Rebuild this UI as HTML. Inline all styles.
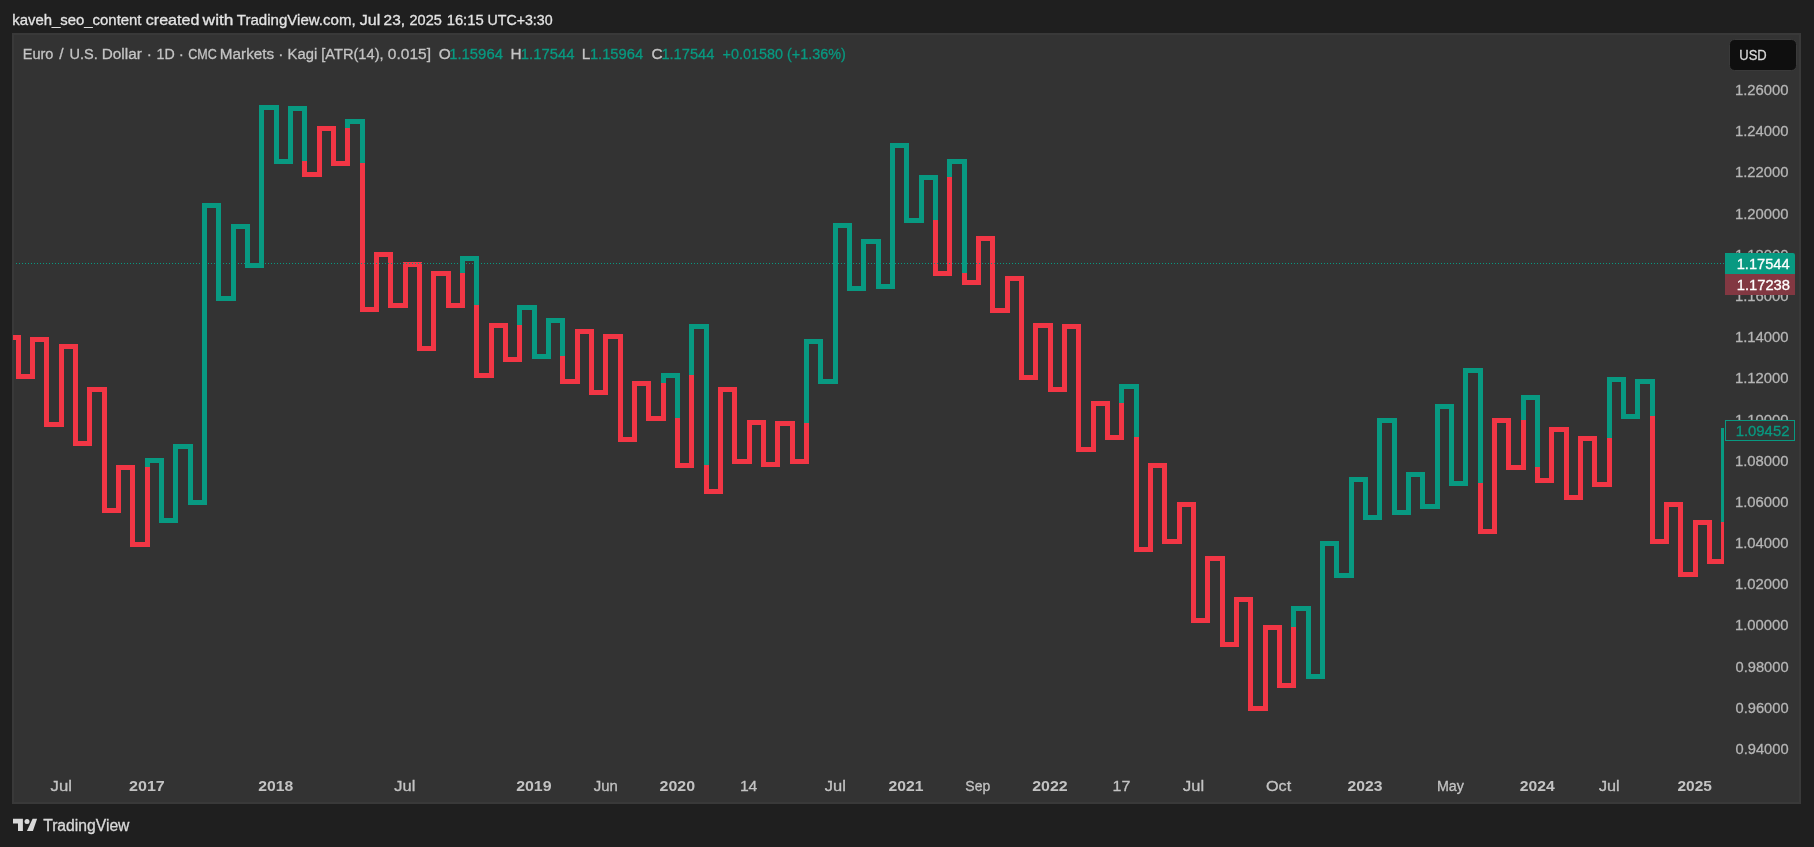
<!DOCTYPE html>
<html><head><meta charset="utf-8">
<style>
html,body{margin:0;padding:0;}
body{width:1814px;height:847px;background:#1f1f1f;overflow:hidden;position:relative;}
svg{position:absolute;left:0;top:0;font-family:"Liberation Sans",sans-serif;will-change:transform;}
</style></head><body>
<svg width="1814" height="847" viewBox="0 0 1814 847">
<rect x="12" y="33" width="1789" height="771" fill="#333333"/>
<rect x="13" y="34" width="1787" height="769" fill="none" stroke="#393939" stroke-width="2"/>
<rect x="1729.5" y="39.5" width="67" height="31" rx="5" fill="#0f0f0f" stroke="#3a3a3a" stroke-width="1"/>
<text x="12.20" y="24.80" font-size="14.8" fill="#e3e3e3" stroke="#e3e3e3" stroke-width="0.3" textLength="129.31" lengthAdjust="spacingAndGlyphs">kaveh_seo_content</text>
<text x="145.72" y="24.80" font-size="14.8" fill="#e3e3e3" stroke="#e3e3e3" stroke-width="0.3" textLength="53.72" lengthAdjust="spacingAndGlyphs">created</text>
<text x="202.63" y="24.80" font-size="14.8" fill="#e3e3e3" stroke="#e3e3e3" stroke-width="0.3" textLength="30.80" lengthAdjust="spacingAndGlyphs">with</text>
<text x="236.87" y="24.80" font-size="14.8" fill="#e3e3e3" stroke="#e3e3e3" stroke-width="0.3" textLength="118.77" lengthAdjust="spacingAndGlyphs">TradingView.com,</text>
<text x="359.75" y="24.80" font-size="14.8" fill="#e3e3e3" stroke="#e3e3e3" stroke-width="0.3" textLength="20.52" lengthAdjust="spacingAndGlyphs">Jul</text>
<text x="383.62" y="24.80" font-size="14.8" fill="#e3e3e3" stroke="#e3e3e3" stroke-width="0.3" textLength="21.46" lengthAdjust="spacingAndGlyphs">23,</text>
<text x="409.57" y="24.80" font-size="14.8" fill="#e3e3e3" stroke="#e3e3e3" stroke-width="0.3" textLength="32.24" lengthAdjust="spacingAndGlyphs">2025</text>
<text x="446.67" y="24.80" font-size="14.8" fill="#e3e3e3" stroke="#e3e3e3" stroke-width="0.3" textLength="37.05" lengthAdjust="spacingAndGlyphs">16:15</text>
<text x="487.51" y="24.80" font-size="14.8" fill="#e3e3e3" stroke="#e3e3e3" stroke-width="0.3" textLength="65.05" lengthAdjust="spacingAndGlyphs">UTC+3:30</text>
<text x="22.76" y="59.00" font-size="15.4" fill="#c4c4c4" stroke="#c4c4c4" stroke-width="0.3" textLength="30.70" lengthAdjust="spacingAndGlyphs">Euro</text>
<text x="69.48" y="59.00" font-size="15.4" fill="#c4c4c4" stroke="#c4c4c4" stroke-width="0.3" textLength="28.25" lengthAdjust="spacingAndGlyphs">U.S.</text>
<text x="101.74" y="59.00" font-size="15.4" fill="#c4c4c4" stroke="#c4c4c4" stroke-width="0.3" textLength="40.11" lengthAdjust="spacingAndGlyphs">Dollar</text>
<text x="156.52" y="59.00" font-size="15.4" fill="#c4c4c4" stroke="#c4c4c4" stroke-width="0.3" textLength="18.16" lengthAdjust="spacingAndGlyphs">1D</text>
<text x="188.26" y="59.00" font-size="15.4" fill="#c4c4c4" stroke="#c4c4c4" stroke-width="0.3" textLength="28.51" lengthAdjust="spacingAndGlyphs">CMC</text>
<text x="219.85" y="59.00" font-size="15.4" fill="#c4c4c4" stroke="#c4c4c4" stroke-width="0.3" textLength="54.30" lengthAdjust="spacingAndGlyphs">Markets</text>
<text x="287.59" y="59.00" font-size="15.4" fill="#c4c4c4" stroke="#c4c4c4" stroke-width="0.3" textLength="29.61" lengthAdjust="spacingAndGlyphs">Kagi</text>
<text x="321.27" y="59.00" font-size="15.4" fill="#c4c4c4" stroke="#c4c4c4" stroke-width="0.3" textLength="62.32" lengthAdjust="spacingAndGlyphs">[ATR(14),</text>
<text x="387.89" y="59.00" font-size="15.4" fill="#c4c4c4" stroke="#c4c4c4" stroke-width="0.3" textLength="43.11" lengthAdjust="spacingAndGlyphs">0.015]</text>
<text x="59.31" y="59.00" font-size="15.4" fill="#c4c4c4" stroke="#c4c4c4" stroke-width="0.3" textLength="4.28" lengthAdjust="spacingAndGlyphs">/</text>
<text x="146.84" y="59.00" font-size="15.4" fill="#c4c4c4" stroke="#c4c4c4" stroke-width="0.3" textLength="5.13" lengthAdjust="spacingAndGlyphs">·</text>
<text x="178.64" y="59.00" font-size="15.4" fill="#c4c4c4" stroke="#c4c4c4" stroke-width="0.3" textLength="5.13" lengthAdjust="spacingAndGlyphs">·</text>
<text x="278.24" y="59.00" font-size="15.4" fill="#c4c4c4" stroke="#c4c4c4" stroke-width="0.3" textLength="5.13" lengthAdjust="spacingAndGlyphs">·</text>
<text x="438.67" y="59.00" font-size="15.4" fill="#c4c4c4" stroke="#c4c4c4" stroke-width="0.3" textLength="11.98" lengthAdjust="spacingAndGlyphs">O</text>
<text x="449.17" y="59.00" font-size="15.4" fill="#089981" stroke="#089981" stroke-width="0.3" textLength="53.77" lengthAdjust="spacingAndGlyphs">1.15964</text>
<text x="510.44" y="59.00" font-size="15.4" fill="#c4c4c4" stroke="#c4c4c4" stroke-width="0.3" textLength="11.12" lengthAdjust="spacingAndGlyphs">H</text>
<text x="520.77" y="59.00" font-size="15.4" fill="#089981" stroke="#089981" stroke-width="0.3" textLength="53.67" lengthAdjust="spacingAndGlyphs">1.17544</text>
<text x="581.74" y="59.00" font-size="15.4" fill="#c4c4c4" stroke="#c4c4c4" stroke-width="0.3" textLength="8.56" lengthAdjust="spacingAndGlyphs">L</text>
<text x="589.88" y="59.00" font-size="15.4" fill="#089981" stroke="#089981" stroke-width="0.3" textLength="53.25" lengthAdjust="spacingAndGlyphs">1.15964</text>
<text x="651.62" y="59.00" font-size="15.4" fill="#c4c4c4" stroke="#c4c4c4" stroke-width="0.3" textLength="11.12" lengthAdjust="spacingAndGlyphs">C</text>
<text x="661.38" y="59.00" font-size="15.4" fill="#089981" stroke="#089981" stroke-width="0.3" textLength="53.05" lengthAdjust="spacingAndGlyphs">1.17544</text>
<text x="722.50" y="59.00" font-size="15.4" fill="#089981" stroke="#089981" stroke-width="0.3" textLength="123.40" lengthAdjust="spacingAndGlyphs">+0.01580 (+1.36%)</text>
<text x="1739.30" y="60.00" font-size="15.4" fill="#d9d9d9" stroke="#d9d9d9" stroke-width="0.3" textLength="27.42" lengthAdjust="spacingAndGlyphs">USD</text>
<text x="1734.97" y="95.00" font-size="15.4" fill="#b5b5b5" stroke="#b5b5b5" stroke-width="0.3" textLength="53.61" lengthAdjust="spacingAndGlyphs">1.26000</text>
<text x="1734.97" y="136.19" font-size="15.4" fill="#b5b5b5" stroke="#b5b5b5" stroke-width="0.3" textLength="53.61" lengthAdjust="spacingAndGlyphs">1.24000</text>
<text x="1734.97" y="177.38" font-size="15.4" fill="#b5b5b5" stroke="#b5b5b5" stroke-width="0.3" textLength="53.61" lengthAdjust="spacingAndGlyphs">1.22000</text>
<text x="1734.97" y="218.57" font-size="15.4" fill="#b5b5b5" stroke="#b5b5b5" stroke-width="0.3" textLength="53.61" lengthAdjust="spacingAndGlyphs">1.20000</text>
<text x="1734.97" y="259.76" font-size="15.4" fill="#b5b5b5" stroke="#b5b5b5" stroke-width="0.3" textLength="53.61" lengthAdjust="spacingAndGlyphs">1.18000</text>
<text x="1734.97" y="300.95" font-size="15.4" fill="#b5b5b5" stroke="#b5b5b5" stroke-width="0.3" textLength="53.61" lengthAdjust="spacingAndGlyphs">1.16000</text>
<text x="1734.97" y="342.14" font-size="15.4" fill="#b5b5b5" stroke="#b5b5b5" stroke-width="0.3" textLength="53.61" lengthAdjust="spacingAndGlyphs">1.14000</text>
<text x="1734.97" y="383.33" font-size="15.4" fill="#b5b5b5" stroke="#b5b5b5" stroke-width="0.3" textLength="53.61" lengthAdjust="spacingAndGlyphs">1.12000</text>
<text x="1734.97" y="424.52" font-size="15.4" fill="#b5b5b5" stroke="#b5b5b5" stroke-width="0.3" textLength="53.61" lengthAdjust="spacingAndGlyphs">1.10000</text>
<text x="1734.97" y="465.71" font-size="15.4" fill="#b5b5b5" stroke="#b5b5b5" stroke-width="0.3" textLength="53.61" lengthAdjust="spacingAndGlyphs">1.08000</text>
<text x="1734.97" y="506.90" font-size="15.4" fill="#b5b5b5" stroke="#b5b5b5" stroke-width="0.3" textLength="53.61" lengthAdjust="spacingAndGlyphs">1.06000</text>
<text x="1734.97" y="548.09" font-size="15.4" fill="#b5b5b5" stroke="#b5b5b5" stroke-width="0.3" textLength="53.61" lengthAdjust="spacingAndGlyphs">1.04000</text>
<text x="1734.97" y="589.28" font-size="15.4" fill="#b5b5b5" stroke="#b5b5b5" stroke-width="0.3" textLength="53.61" lengthAdjust="spacingAndGlyphs">1.02000</text>
<text x="1734.97" y="630.47" font-size="15.4" fill="#b5b5b5" stroke="#b5b5b5" stroke-width="0.3" textLength="53.61" lengthAdjust="spacingAndGlyphs">1.00000</text>
<text x="1735.53" y="671.66" font-size="15.4" fill="#b5b5b5" stroke="#b5b5b5" stroke-width="0.3" textLength="53.05" lengthAdjust="spacingAndGlyphs">0.98000</text>
<text x="1735.53" y="712.85" font-size="15.4" fill="#b5b5b5" stroke="#b5b5b5" stroke-width="0.3" textLength="53.05" lengthAdjust="spacingAndGlyphs">0.96000</text>
<text x="1735.53" y="754.04" font-size="15.4" fill="#b5b5b5" stroke="#b5b5b5" stroke-width="0.3" textLength="53.05" lengthAdjust="spacingAndGlyphs">0.94000</text>
<text x="50.60" y="790.95" font-size="15.4" fill="#c3c3c3" stroke="#c3c3c3" stroke-width="0.3" textLength="21.36" lengthAdjust="spacingAndGlyphs">Jul</text>
<text x="129.04" y="790.95" font-size="15.4" fill="#c3c3c3" stroke="#c3c3c3" stroke-width="0" font-weight="bold" textLength="35.76" lengthAdjust="spacingAndGlyphs">2017</text>
<text x="258.15" y="790.95" font-size="15.4" fill="#c3c3c3" stroke="#c3c3c3" stroke-width="0" font-weight="bold" textLength="35.03" lengthAdjust="spacingAndGlyphs">2018</text>
<text x="394.34" y="790.95" font-size="15.4" fill="#c3c3c3" stroke="#c3c3c3" stroke-width="0.3" textLength="21.06" lengthAdjust="spacingAndGlyphs">Jul</text>
<text x="516.15" y="790.95" font-size="15.4" fill="#c3c3c3" stroke="#c3c3c3" stroke-width="0" font-weight="bold" textLength="35.44" lengthAdjust="spacingAndGlyphs">2019</text>
<text x="593.77" y="790.95" font-size="15.4" fill="#c3c3c3" stroke="#c3c3c3" stroke-width="0.3" textLength="24.00" lengthAdjust="spacingAndGlyphs">Jun</text>
<text x="659.55" y="790.95" font-size="15.4" fill="#c3c3c3" stroke="#c3c3c3" stroke-width="0" font-weight="bold" textLength="35.51" lengthAdjust="spacingAndGlyphs">2020</text>
<text x="739.90" y="790.95" font-size="15.4" fill="#c3c3c3" stroke="#c3c3c3" stroke-width="0.3" textLength="17.46" lengthAdjust="spacingAndGlyphs">14</text>
<text x="824.84" y="790.95" font-size="15.4" fill="#c3c3c3" stroke="#c3c3c3" stroke-width="0.3" textLength="21.06" lengthAdjust="spacingAndGlyphs">Jul</text>
<text x="888.45" y="790.95" font-size="15.4" fill="#c3c3c3" stroke="#c3c3c3" stroke-width="0" font-weight="bold" textLength="34.98" lengthAdjust="spacingAndGlyphs">2021</text>
<text x="965.36" y="790.95" font-size="15.4" fill="#c3c3c3" stroke="#c3c3c3" stroke-width="0.3" textLength="24.92" lengthAdjust="spacingAndGlyphs">Sep</text>
<text x="1032.15" y="790.95" font-size="15.4" fill="#c3c3c3" stroke="#c3c3c3" stroke-width="0" font-weight="bold" textLength="35.49" lengthAdjust="spacingAndGlyphs">2022</text>
<text x="1112.48" y="790.95" font-size="15.4" fill="#c3c3c3" stroke="#c3c3c3" stroke-width="0.3" textLength="17.83" lengthAdjust="spacingAndGlyphs">17</text>
<text x="1183.14" y="790.95" font-size="15.4" fill="#c3c3c3" stroke="#c3c3c3" stroke-width="0.3" textLength="21.06" lengthAdjust="spacingAndGlyphs">Jul</text>
<text x="1266.03" y="790.95" font-size="15.4" fill="#c3c3c3" stroke="#c3c3c3" stroke-width="0.3" textLength="25.19" lengthAdjust="spacingAndGlyphs">Oct</text>
<text x="1347.55" y="790.95" font-size="15.4" fill="#c3c3c3" stroke="#c3c3c3" stroke-width="0" font-weight="bold" textLength="35.01" lengthAdjust="spacingAndGlyphs">2023</text>
<text x="1436.93" y="790.95" font-size="15.4" fill="#c3c3c3" stroke="#c3c3c3" stroke-width="0.3" textLength="27.00" lengthAdjust="spacingAndGlyphs">May</text>
<text x="1519.75" y="790.95" font-size="15.4" fill="#c3c3c3" stroke="#c3c3c3" stroke-width="0" font-weight="bold" textLength="35.03" lengthAdjust="spacingAndGlyphs">2024</text>
<text x="1598.95" y="790.95" font-size="15.4" fill="#c3c3c3" stroke="#c3c3c3" stroke-width="0.3" textLength="20.74" lengthAdjust="spacingAndGlyphs">Jul</text>
<text x="1677.46" y="790.95" font-size="15.4" fill="#c3c3c3" stroke="#c3c3c3" stroke-width="0" font-weight="bold" textLength="34.47" lengthAdjust="spacingAndGlyphs">2025</text>
<polyline points="13,337.5 18.5,337.5 18.5,376.5 32.5,376.5 32.5,339.5 46.5,339.5 46.5,424.5 61.5,424.5 61.5,346.5 75.5,346.5 75.5,443.5 89.5,443.5 89.5,389.5 104.5,389.5 104.5,510.5 118.5,510.5 118.5,467.5 132.5,467.5 132.5,544.5 147.5,544.5 147.5,467" fill="none" stroke="#f23645" stroke-width="5" stroke-linejoin="miter" stroke-linecap="butt"/>
<polyline points="147.5,467 147.5,460.5 161.5,460.5 161.5,520.5 175.5,520.5 175.5,446.5 190.5,446.5 190.5,502.5 204.5,502.5 204.5,205.5 218.5,205.5 218.5,298.5 233.5,298.5 233.5,226.5 247.5,226.5 247.5,265.5 261.5,265.5 261.5,107.5 276.5,107.5 276.5,161.5 290.5,161.5 290.5,108.5 304.5,108.5 304.5,161" fill="none" stroke="#089981" stroke-width="5" stroke-linejoin="miter" stroke-linecap="butt"/>
<polyline points="304.5,161 304.5,174.5 319.5,174.5 319.5,128.5 333.5,128.5 333.5,163.5 347.5,163.5 347.5,128" fill="none" stroke="#f23645" stroke-width="5" stroke-linejoin="miter" stroke-linecap="butt"/>
<polyline points="347.5,128 347.5,121.5 362.5,121.5 362.5,163" fill="none" stroke="#089981" stroke-width="5" stroke-linejoin="miter" stroke-linecap="butt"/>
<polyline points="362.5,163 362.5,309.5 376.5,309.5 376.5,254.5 390.5,254.5 390.5,305.5 405.5,305.5 405.5,264.5 419.5,264.5 419.5,348.5 433.5,348.5 433.5,273.5 448.5,273.5 448.5,305.5 462.5,305.5 462.5,273" fill="none" stroke="#f23645" stroke-width="5" stroke-linejoin="miter" stroke-linecap="butt"/>
<polyline points="462.5,273 462.5,258.5 476.5,258.5 476.5,305" fill="none" stroke="#089981" stroke-width="5" stroke-linejoin="miter" stroke-linecap="butt"/>
<polyline points="476.5,305 476.5,375.5 491.5,375.5 491.5,325.5 505.5,325.5 505.5,359.5 519.5,359.5 519.5,325" fill="none" stroke="#f23645" stroke-width="5" stroke-linejoin="miter" stroke-linecap="butt"/>
<polyline points="519.5,325 519.5,307.5 534.5,307.5 534.5,356.5 548.5,356.5 548.5,320.5 562.5,320.5 562.5,356" fill="none" stroke="#089981" stroke-width="5" stroke-linejoin="miter" stroke-linecap="butt"/>
<polyline points="562.5,356 562.5,381.5 577.5,381.5 577.5,331.5 591.5,331.5 591.5,392.5 605.5,392.5 605.5,336.5 620.5,336.5 620.5,439.5 634.5,439.5 634.5,383.5 648.5,383.5 648.5,418.5 663.5,418.5 663.5,383" fill="none" stroke="#f23645" stroke-width="5" stroke-linejoin="miter" stroke-linecap="butt"/>
<polyline points="663.5,383 663.5,375.5 677.5,375.5 677.5,418" fill="none" stroke="#089981" stroke-width="5" stroke-linejoin="miter" stroke-linecap="butt"/>
<polyline points="677.5,418 677.5,465.5 691.5,465.5 691.5,375" fill="none" stroke="#f23645" stroke-width="5" stroke-linejoin="miter" stroke-linecap="butt"/>
<polyline points="691.5,375 691.5,326.5 706.5,326.5 706.5,465" fill="none" stroke="#089981" stroke-width="5" stroke-linejoin="miter" stroke-linecap="butt"/>
<polyline points="706.5,465 706.5,491.5 720.5,491.5 720.5,389.5 734.5,389.5 734.5,461.5 749.5,461.5 749.5,422.5 763.5,422.5 763.5,464.5 777.5,464.5 777.5,423.5 792.5,423.5 792.5,461.5 806.5,461.5 806.5,423" fill="none" stroke="#f23645" stroke-width="5" stroke-linejoin="miter" stroke-linecap="butt"/>
<polyline points="806.5,423 806.5,341.5 820.5,341.5 820.5,381.5 835.5,381.5 835.5,225.5 849.5,225.5 849.5,288.5 863.5,288.5 863.5,241.5 878.5,241.5 878.5,286.5 892.5,286.5 892.5,145.5 906.5,145.5 906.5,220.5 921.5,220.5 921.5,177.5 935.5,177.5 935.5,220" fill="none" stroke="#089981" stroke-width="5" stroke-linejoin="miter" stroke-linecap="butt"/>
<polyline points="935.5,220 935.5,273.5 949.5,273.5 949.5,177" fill="none" stroke="#f23645" stroke-width="5" stroke-linejoin="miter" stroke-linecap="butt"/>
<polyline points="949.5,177 949.5,161.5 964.5,161.5 964.5,273" fill="none" stroke="#089981" stroke-width="5" stroke-linejoin="miter" stroke-linecap="butt"/>
<polyline points="964.5,273 964.5,282.5 978.5,282.5 978.5,238.5 992.5,238.5 992.5,310.5 1007.5,310.5 1007.5,278.5 1021.5,278.5 1021.5,377.5 1035.5,377.5 1035.5,325.5 1050.5,325.5 1050.5,389.5 1064.5,389.5 1064.5,326.5 1078.5,326.5 1078.5,449.5 1093.5,449.5 1093.5,403.5 1107.5,403.5 1107.5,437.5 1121.5,437.5 1121.5,403" fill="none" stroke="#f23645" stroke-width="5" stroke-linejoin="miter" stroke-linecap="butt"/>
<polyline points="1121.5,403 1121.5,386.5 1136.5,386.5 1136.5,437" fill="none" stroke="#089981" stroke-width="5" stroke-linejoin="miter" stroke-linecap="butt"/>
<polyline points="1136.5,437 1136.5,549.5 1150.5,549.5 1150.5,465.5 1164.5,465.5 1164.5,541.5 1179.5,541.5 1179.5,504.5 1193.5,504.5 1193.5,620.5 1207.5,620.5 1207.5,558.5 1222.5,558.5 1222.5,644.5 1236.5,644.5 1236.5,599.5 1250.5,599.5 1250.5,708.5 1265.5,708.5 1265.5,627.5 1279.5,627.5 1279.5,685.5 1293.5,685.5 1293.5,627" fill="none" stroke="#f23645" stroke-width="5" stroke-linejoin="miter" stroke-linecap="butt"/>
<polyline points="1293.5,627 1293.5,608.5 1308.5,608.5 1308.5,676.5 1322.5,676.5 1322.5,543.5 1336.5,543.5 1336.5,575.5 1351.5,575.5 1351.5,479.5 1365.5,479.5 1365.5,517.5 1379.5,517.5 1379.5,420.5 1394.5,420.5 1394.5,512.5 1408.5,512.5 1408.5,474.5 1422.5,474.5 1422.5,506.5 1437.5,506.5 1437.5,406.5 1451.5,406.5 1451.5,483.5 1465.5,483.5 1465.5,370.5 1480.5,370.5 1480.5,483" fill="none" stroke="#089981" stroke-width="5" stroke-linejoin="miter" stroke-linecap="butt"/>
<polyline points="1480.5,483 1480.5,531.5 1494.5,531.5 1494.5,420.5 1508.5,420.5 1508.5,467.5 1523.5,467.5 1523.5,420" fill="none" stroke="#f23645" stroke-width="5" stroke-linejoin="miter" stroke-linecap="butt"/>
<polyline points="1523.5,420 1523.5,397.5 1537.5,397.5 1537.5,467" fill="none" stroke="#089981" stroke-width="5" stroke-linejoin="miter" stroke-linecap="butt"/>
<polyline points="1537.5,467 1537.5,480.5 1551.5,480.5 1551.5,429.5 1566.5,429.5 1566.5,497.5 1580.5,497.5 1580.5,438.5 1594.5,438.5 1594.5,484.5 1609.5,484.5 1609.5,438" fill="none" stroke="#f23645" stroke-width="5" stroke-linejoin="miter" stroke-linecap="butt"/>
<polyline points="1609.5,438 1609.5,379.5 1623.5,379.5 1623.5,416.5 1637.5,416.5 1637.5,381.5 1652.5,381.5 1652.5,416" fill="none" stroke="#089981" stroke-width="5" stroke-linejoin="miter" stroke-linecap="butt"/>
<polyline points="1652.5,416 1652.5,541.5 1666.5,541.5 1666.5,504.5 1680.5,504.5 1680.5,574.5 1695.5,574.5 1695.5,522.5 1709.5,522.5 1709.5,561.5 1724,561.5" fill="none" stroke="#f23645" stroke-width="5" stroke-linejoin="miter" stroke-linecap="butt"/>
<line x1="1722.5" y1="564.0" x2="1722.5" y2="522.0" stroke="#f23645" stroke-width="3"/>
<line x1="1722.5" y1="522.0" x2="1722.5" y2="428.0" stroke="#089981" stroke-width="3"/>
<line x1="16" y1="263.5" x2="1725" y2="263.5" stroke="#089981" stroke-width="1" stroke-dasharray="1 2"/>
<rect x="1725.5" y="420.5" width="69" height="20" fill="#333333" stroke="#089981" stroke-width="1"/>
<text x="1735.67" y="435.80" font-size="14.8" fill="#089981" stroke="#089981" stroke-width="0.3" textLength="53.78" lengthAdjust="spacingAndGlyphs">1.09452</text>
<path d="M1725 253 H1793 Q1795 253 1795 255 V274 H1725 Z" fill="#089981"/>
<text x="1736.69" y="268.90" font-size="14.8" fill="#ffffff" stroke="#ffffff" stroke-width="0.3" textLength="52.84" lengthAdjust="spacingAndGlyphs">1.17544</text>
<rect x="1725" y="274" width="70" height="21" fill="#823842"/>
<text x="1736.68" y="289.70" font-size="14.8" fill="#ffffff" stroke="#ffffff" stroke-width="0.3" textLength="53.37" lengthAdjust="spacingAndGlyphs">1.17238</text>
<text x="43.15" y="830.60" font-size="15.6" fill="#d9d9d9" stroke="#d9d9d9" stroke-width="0.3" textLength="86.31" lengthAdjust="spacingAndGlyphs">TradingView</text>
<path d="M13 818.8 H22.9 V831 H18 V823.6 H13 Z" fill="#d9d9d9"/>
<circle cx="27" cy="821.4" r="2.5" fill="#d9d9d9"/>
<path d="M32.6 818.8 H37.1 L32.9 831 H26.9 Z" fill="#d9d9d9"/>
</svg>
</body></html>
